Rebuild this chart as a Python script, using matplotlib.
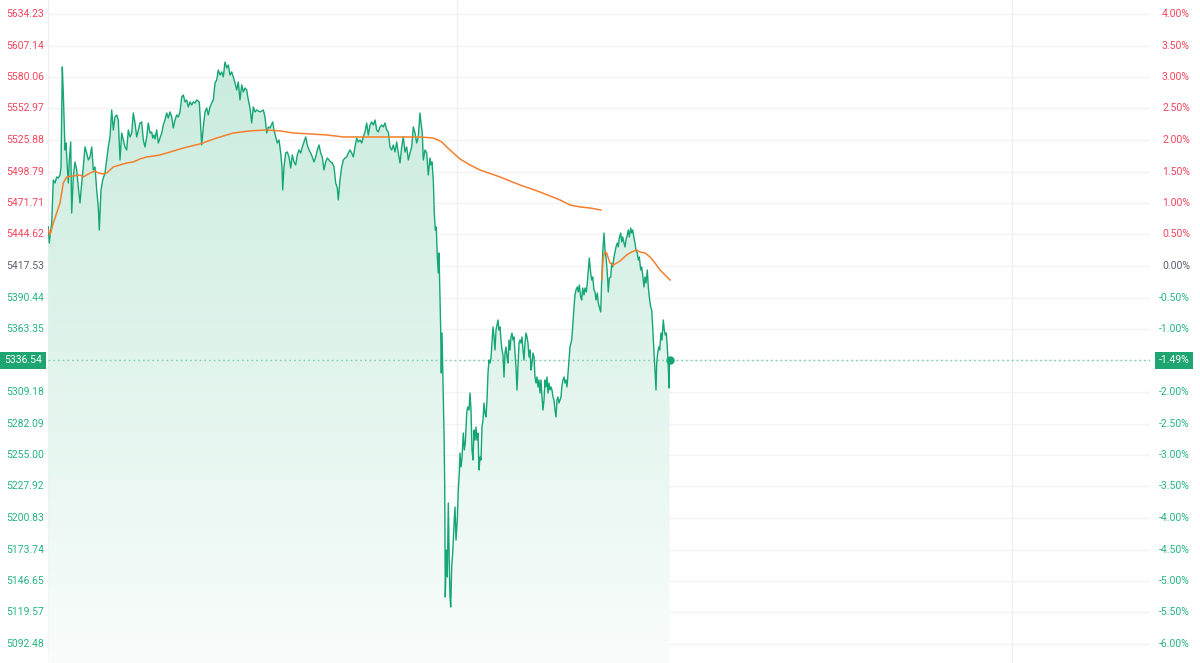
import numpy as np
import matplotlib
matplotlib.use("Agg")
import matplotlib.pyplot as plt

# ---------------- data ----------------
base_price = 5417.53
last_price = 5336.54
last_pct_label = "-1.49%"

price_ticks = [5634.23, 5607.14, 5580.06, 5552.97, 5525.88, 5498.79, 5471.71,
               5444.62, 5417.53, 5390.44, 5363.35, 5336.27, 5309.18, 5282.09,
               5255.00, 5227.92, 5200.83, 5173.74, 5146.65, 5119.57, 5092.48]
pct_tick_labels = ["4.00%", "3.50%", "3.00%", "2.50%", "2.00%", "1.50%", "1.00%",
                   "0.50%", "0.00%", "-0.50%", "-1.00%", "-1.50%", "-2.00%", "-2.50%",
                   "-3.00%", "-3.50%", "-4.00%", "-4.50%", "-5.00%", "-5.50%", "-6.00%"]
hidden_tick = 5336.27          # label hidden behind the last-price tag

time_grid = [0, 409, 964]       # vertical grid positions (time units)
x_end = 1102                    # right end of time axis

# price series (time, price)
t_price = [
    0.3, 1.3, 2.5, 3.7, 5.3, 7, 8.7, 10.3, 12, 13,
    14.3, 15.3, 17, 18, 19.3, 20.3, 21.3, 22.7, 23.7, 25.3,
    27, 28.7, 30.3, 32, 33.7, 35.3, 37, 38.7, 40.3, 42,
    43.7, 45.3, 47, 48.7, 50.3, 51.3, 53, 54.7, 57, 58.7,
    60.3, 62, 63.7, 65.3, 67, 68.7, 70.3, 72, 73.7, 75.3,
    77, 78.7, 80.3, 82, 83.7, 85.3, 87, 88.7, 90.3, 92,
    93.7, 95.3, 97, 98.7, 100.3, 102, 103.7, 104.7, 106, 107,
    108.7, 110.3, 112, 113.7, 115.3, 117, 118.7, 120.3, 122, 123.7,
    125.3, 127, 128.7, 130.3, 132, 133.7, 135.3, 137, 138.7, 140.3,
    142, 143.7, 145.3, 147, 148.7, 151.3, 152.7, 153.7, 155.3, 157,
    158.7, 160.3, 162, 163.7, 165.3, 167, 168.7, 170.3, 172, 173.7,
    175.3, 177, 178.7, 180.3, 182, 183.7, 185.3, 187, 188.7, 190.3,
    192, 193.7, 195.3, 197, 198.7, 200.3, 202, 203.7, 205.3, 207,
    208.7, 212, 215.3, 217, 218.7, 220.3, 222, 224.7, 226, 227.7,
    229.3, 231, 232.7, 234, 234.7, 236, 237.7, 239.3, 241, 242.7,
    244.3, 246, 247.7, 249.3, 251, 252.7, 254.3, 256, 257.7, 259.3,
    261, 262.7, 264.3, 266, 267.7, 269.3, 271, 272.7, 274.3, 276,
    277.7, 279.3, 281, 282.7, 284.3, 286, 287.7, 289.3, 290.3, 292,
    293.7, 295.3, 297, 298.7, 300.3, 302, 303.7, 305.3, 307, 308.7,
    310.3, 312, 313.7, 315.3, 317, 318.7, 320.3, 322, 323.7, 325.3,
    327, 328.7, 330.3, 332, 333.7, 335.3, 337, 338.7, 340.3, 342,
    343.7, 345.3, 347, 348.7, 350.3, 352, 353.7, 355.3, 357, 358.7,
    360.3, 362, 363.7, 365.3, 367, 368.7, 370.3, 372, 373, 374.3,
    375.3, 377, 378.7, 380.3, 382, 383, 384, 385.3, 386.3, 387.3,
    388.3, 389.3, 390.3, 391, 392, 392.7, 393.3, 394, 394.7, 395.3,
    396, 396.7, 397.3, 398.3, 399.3, 400.3, 401.2, 402, 402.7, 403.7,
    404.7, 406, 407, 408, 409.3, 410.3, 411.3, 412, 413, 414,
    415.3, 416.3, 417.3, 418.7, 419.7, 421, 422, 423, 424, 425,
    426, 427, 428, 429, 430, 431, 432, 433, 434, 435,
    436, 437, 438, 439, 440, 441, 442, 443, 444, 445,
    446, 447, 448, 449, 450, 451, 452, 453, 454, 455,
    456, 457, 458, 459, 460, 461, 462, 463, 464, 465,
    466, 467, 468, 469, 470, 471, 472, 473, 474, 475,
    476, 477, 478, 479, 480, 481, 482, 483, 484, 485,
    486, 487, 488, 489, 490, 491, 492, 493, 494, 495,
    496, 497, 498, 499, 500, 501, 502, 503, 504, 505,
    506, 507, 508, 509, 510, 511, 512, 513, 514, 515,
    516, 517, 518, 519, 520.3, 521, 522, 523.7, 524.7, 526,
    527, 528, 529.3, 530.3, 531.3, 532.7, 533.7, 534.7, 536, 537,
    538.3, 539.3, 540.3, 541.3, 542.7, 543.7, 544.7, 546, 547, 548,
    549.3, 550.3, 551.3, 552.7, 553.7, 554.7, 556, 557, 558.3, 559.3,
    560.3, 561.3, 562.7, 563.7, 564.7, 566, 567, 568, 569.3, 570.3,
    571.3, 572.7, 573.7, 574.7, 576, 577, 578, 579.3, 580.3, 581.3,
    582.7, 583.7, 584.7, 586, 587, 588, 589.3, 590.3, 591.3, 592.7,
    593.7, 594.7, 596, 597, 598, 599.3, 600.3, 601.3, 602.7, 603.7,
    604.7, 606, 607, 608, 608.7, 609.7, 610.7, 611.7, 613, 614,
    615.3, 616.3, 617.3, 618.3, 619.3, 620.3, 621, 621.5]
price = [
    5451.1, 5437.3, 5446.8, 5454.5, 5491.5, 5488.9, 5494.1, 5493.2, 5495.8, 5502.7,
    5588.7, 5566.3, 5517.3, 5523.3, 5502.7, 5488.9, 5508.7, 5524.2, 5463.1, 5494.1,
    5507.0, 5500.1, 5485.5, 5471.7, 5488.9, 5502.7, 5519.9, 5514.7, 5508.7, 5511.3,
    5519.9, 5500.1, 5502.7, 5482.9, 5468.3, 5448.5, 5482.9, 5491.5, 5497.5, 5508.7,
    5519.9, 5528.5, 5551.7, 5534.5, 5545.7, 5547.4, 5543.1, 5508.7, 5531.9, 5525.9,
    5519.9, 5517.3, 5534.5, 5528.5, 5531.9, 5549.1, 5540.5, 5528.5, 5534.5, 5540.5,
    5541.4, 5525.9, 5519.9, 5528.5, 5540.5, 5531.9, 5532.8, 5527.6, 5530.2, 5526.8,
    5534.5, 5523.3, 5527.6, 5531.9, 5538.8, 5543.1, 5549.1, 5544.8, 5550.0, 5545.7,
    5536.2, 5543.1, 5547.4, 5545.7, 5550.0, 5562.9, 5564.6, 5558.6, 5560.3, 5554.3,
    5558.6, 5556.0, 5558.6, 5557.7, 5560.3, 5558.6, 5537.1, 5521.6, 5537.1, 5550.0,
    5553.4, 5547.4, 5554.3, 5557.7, 5560.3, 5574.9, 5577.5, 5586.1, 5581.8, 5584.4,
    5580.1, 5593.0, 5587.8, 5590.4, 5581.8, 5584.4, 5580.1, 5574.9, 5568.9, 5575.8,
    5560.3, 5573.2, 5567.2, 5570.6, 5568.9, 5560.3, 5553.4, 5540.5, 5554.3, 5550.0,
    5551.7, 5550.0, 5551.7, 5545.7, 5531.9, 5537.1, 5536.2, 5541.4, 5534.5, 5528.5,
    5523.3, 5525.9, 5514.7, 5502.7, 5482.9, 5502.7, 5514.7, 5515.6, 5511.3, 5501.8,
    5513.0, 5507.0, 5504.4, 5513.0, 5517.3, 5514.7, 5519.9, 5524.2, 5528.5, 5521.6,
    5517.3, 5514.7, 5511.3, 5507.0, 5511.3, 5517.3, 5521.6, 5514.7, 5511.3, 5500.1,
    5507.0, 5510.4, 5508.7, 5507.0, 5506.1, 5502.7, 5488.9, 5484.6, 5474.3, 5491.5,
    5502.7, 5508.7, 5510.4, 5511.3, 5514.7, 5517.3, 5514.7, 5511.3, 5519.9, 5527.6,
    5524.2, 5525.9, 5523.3, 5528.5, 5532.8, 5540.5, 5530.2, 5538.8, 5541.4, 5538.8,
    5543.1, 5534.5, 5532.8, 5537.1, 5538.8, 5537.1, 5540.5, 5534.5, 5532.8, 5519.9,
    5517.3, 5521.6, 5515.6, 5524.2, 5514.7, 5506.1, 5519.9, 5528.5, 5515.6, 5519.9,
    5508.7, 5514.7, 5519.9, 5537.1, 5531.9, 5523.3, 5528.5, 5549.1, 5540.5, 5531.9,
    5508.7, 5517.3, 5514.7, 5495.8, 5510.4, 5504.4, 5507.0, 5491.5, 5463.1, 5448.5,
    5451.1, 5425.3, 5411.5, 5428.7, 5388.3, 5362.5, 5325.5, 5359.9, 5330.7, 5302.3,
    5273.9, 5230.9, 5132.9, 5173.3, 5150.1, 5213.7, 5167.3, 5132.9, 5124.3, 5158.7,
    5170.7, 5194.8, 5210.3, 5181.9, 5199.1, 5224.9, 5239.5, 5256.7, 5244.7, 5252.4,
    5273.9, 5259.3, 5265.3, 5291.1, 5296.3, 5293.7, 5308.3, 5293.7, 5259.3, 5250.7,
    5276.5, 5267.9, 5279.1, 5267.9, 5273.9, 5242.1, 5253.3, 5250.7, 5279.1, 5285.1,
    5299.7, 5291.1, 5287.7, 5302.3, 5325.5, 5336.7, 5334.1, 5338.4, 5351.3, 5365.1,
    5356.5, 5345.3, 5362.5, 5366.8, 5371.1, 5362.5, 5365.1, 5353.9, 5345.3, 5341.0,
    5322.1, 5342.7, 5347.9, 5339.3, 5334.1, 5353.9, 5345.3, 5356.5, 5359.9, 5353.9,
    5356.5, 5342.7, 5330.7, 5310.9, 5330.7, 5351.3, 5353.9, 5351.3, 5356.5, 5345.3,
    5336.7, 5351.3, 5359.9, 5356.5, 5351.3, 5339.3, 5345.3, 5328.1, 5334.1, 5342.7,
    5339.3, 5322.1, 5316.9, 5322.1, 5313.5, 5319.5, 5308.3, 5319.5, 5304.9, 5293.7,
    5302.3, 5319.5, 5313.5, 5322.1, 5308.3, 5316.9, 5310.9, 5313.5, 5310.9, 5304.9,
    5302.3, 5293.7, 5287.7, 5302.3, 5304.9, 5299.7, 5302.3, 5304.9, 5315.2, 5319.5,
    5322.1, 5316.9, 5319.5, 5313.5, 5328.1, 5336.7, 5347.9, 5353.9, 5365.1, 5382.3,
    5392.6, 5396.9, 5399.5, 5395.2, 5401.2, 5390.9, 5388.3, 5398.6, 5392.6, 5398.6,
    5395.2, 5402.9, 5414.1, 5424.4, 5411.5, 5405.5, 5408.1, 5396.9, 5395.2, 5388.3,
    5394.3, 5385.7, 5382.3, 5378.0, 5405.5, 5428.7, 5445.9, 5431.3, 5422.7, 5411.5,
    5395.2, 5407.2, 5408.1, 5420.1, 5416.7, 5425.3, 5429.6, 5433.9, 5437.3, 5433.9,
    5441.6, 5445.9, 5438.2, 5442.5, 5437.3, 5433.9, 5439.9, 5444.2, 5448.5, 5442.5,
    5450.2, 5445.9, 5448.5, 5441.6, 5437.3, 5431.3, 5428.7, 5422.7, 5425.3, 5414.1,
    5416.7, 5409.8, 5399.5, 5408.1, 5402.9, 5414.1, 5399.5, 5390.9, 5382.3, 5379.7,
    5365.1, 5342.7, 5328.1, 5310.9, 5334.1, 5342.7, 5347.9, 5345.3, 5359.9, 5353.9,
    5371.1, 5362.5, 5358.2, 5359.9, 5347.9, 5330.7, 5312.6, 5336.54]

# average line, session 1 and session 2
t_avg1 = [0.3, 2, 5.3, 8.7, 12, 13.7, 15.3, 18.7, 25.3, 32, 35.3, 38.7, 42, 47, 50.3,
          55.3, 58.7, 62, 65.3, 72, 78.7, 85.3, 92, 98.7, 105.3, 112, 118.7, 135.3, 152,
          168.7, 185.3, 202, 218.7, 232, 245.3, 262, 278.7, 295.3, 312, 332, 352, 372,
          385, 390, 393.7, 398.7, 405.3, 412, 422, 432, 452, 472, 492, 512, 522, 532,
          542, 553]
avg1 = [5448.5, 5444.2, 5454.5, 5463.1, 5471.7, 5480.3, 5488.9, 5494.1, 5495.0, 5495.8,
        5494.1, 5495.8, 5497.5, 5499.2, 5497.5, 5496.7, 5497.5, 5500.1, 5502.7, 5504.4,
        5506.1, 5507.0, 5509.6, 5511.3, 5512.1, 5513.0, 5514.7, 5519.0, 5522.5, 5527.6,
        5531.9, 5533.7, 5534.5, 5533.7, 5531.9, 5531.1, 5530.2, 5528.5, 5528.5, 5528.5,
        5528.5, 5528.5, 5527.6, 5525.9, 5524.2, 5519.9, 5514.7, 5509.6, 5504.4, 5500.1,
        5494.1, 5487.2, 5481.2, 5474.3, 5470.0, 5468.3, 5467.4, 5465.7]
t_avg2 = [553.7, 555.3, 557, 558.7, 560.3, 562, 565.3, 568.7, 572, 575.3, 578.7, 583.7,
          588.7, 592, 597, 602, 607, 612, 617, 622]
avg2 = [5405.5, 5425.3, 5429.6, 5428.7, 5424.4, 5420.1, 5418.4, 5420.1, 5421.8, 5424.4,
        5427.0, 5429.6, 5431.3, 5429.6, 5428.7, 5425.3, 5420.1, 5414.1, 5409.8, 5405.5]

# ---------------- style ----------------
up_col = "#f4455c"
down_col = "#26b582"
flat_col = "#5d6170"
line_col = "#14a675"
avg_col = "#f57f2f"
grid_col = "#f2f3f6"
font = "Roboto"

W, H = 1200, 663
fig = plt.figure(figsize=(W / 100, H / 100), dpi=100)
ax = fig.add_axes([48 / W, 0, 1102 / W, 1])
ax.set_xlim(0, x_end)
ax.set_ylim(5076.14, 5646.27)
for s in ax.spines.values():
    s.set_visible(False)
ax.set_xticks([])
ax.set_yticks([])

# grid
for v in price_ticks:
    ax.axhline(v, color=grid_col, lw=1.0, zorder=0)
for tg in time_grid:
    ax.axvline(tg, color="#eef0f3", lw=1.0, zorder=0)

n_pts = min(len(t_price), len(price))
t_arr = np.array(t_price[:n_pts])
p_arr = np.array(price[:n_pts])

# gradient area fill
ybot = ax.get_ylim()[0]
poly = ax.fill_between(t_arr, p_arr, ybot, color="none", lw=0)
ytop = p_arr.max()
n = 256
frac = np.linspace(1, 0, n)[:, None]
top_rgb = np.array([0.79, 0.925, 0.87])
bot_rgb = np.array([0.975, 0.99, 0.985])
grad = bot_rgb + (top_rgb - bot_rgb) * frac
img = np.dstack([grad[:, 0:1], grad[:, 1:2], grad[:, 2:3]])
im = ax.imshow(img, extent=[t_arr.min(), t_arr.max(), ybot, ytop],
               aspect="auto", origin="upper", zorder=1, interpolation="bilinear")
path = poly.get_paths()[0]
im.set_clip_path(path, transform=ax.transData)
ax.set_xlim(0, x_end)
ax.set_ylim(5076.14, 5646.27)

# lines
ax.plot(t_arr, p_arr, color=line_col, lw=1.0, zorder=3, solid_joinstyle="round")
ax.plot(t_avg1, avg1, color=avg_col, lw=1.1, zorder=4)
ax.plot(t_avg2, avg2, color=avg_col, lw=1.1, zorder=4)

# last price dotted line and dot
ax.axhline(last_price, color="#7fcfb0", lw=1.0, ls=(0, (1.2, 2.2)), zorder=2)
ax.plot([t_arr[-1]], [last_price], "o", color=line_col, ms=5, zorder=5)

# axis labels
ytr = ax.get_yaxis_transform()
lx = (44 - 48) / 1102
rx = (1190 - 48) / 1102
for v, pl in zip(price_ticks, pct_tick_labels):
    if abs(v - hidden_tick) < 0.01:
        continue
    if v > base_price + 0.01:
        c = up_col
    elif v < base_price - 0.01:
        c = down_col
    else:
        c = flat_col
    ax.text(lx, v, f"{v:.2f}", transform=ytr, ha="right", va="center",
            fontsize=7.5, color=c, family=font, clip_on=False)
    ax.text(rx, v, pl, transform=ytr, ha="right", va="center",
            fontsize=7.5, color=c, family=font, clip_on=False)

# last price tags
tag_col = "#1ea672"
ax.text((23 - 48) / 1102, last_price, f"{last_price:.2f}", transform=ytr,
        ha="center", va="center", fontsize=7.5, color="white", family=font,
        clip_on=False,
        bbox=dict(boxstyle="square,pad=0.35", fc=tag_col, ec="none"))
ax.text((1174 - 48) / 1102, last_price, last_pct_label, transform=ytr,
        ha="center", va="center", fontsize=7.5, color="white", family=font,
        clip_on=False,
        bbox=dict(boxstyle="square,pad=0.35", fc=tag_col, ec="none"))

fig.savefig("out.png", dpi=100)
